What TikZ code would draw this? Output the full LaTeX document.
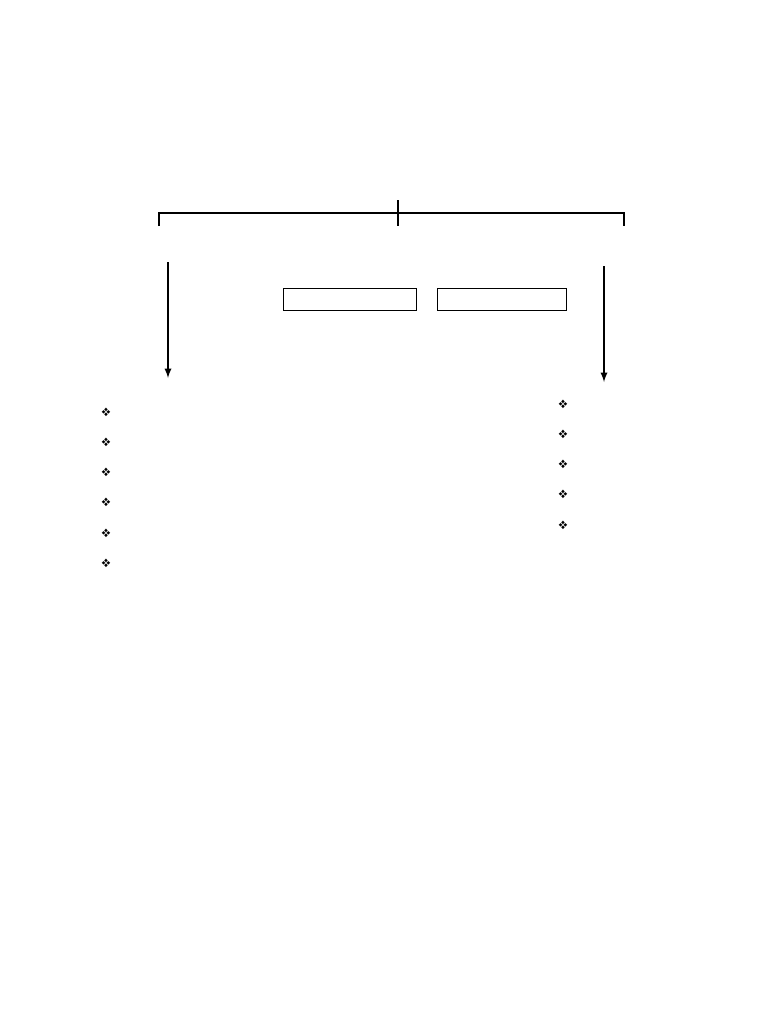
\documentclass[tikz,border=0pt]{standalone}
\usepackage{pifont}
\begin{document}
\begin{tikzpicture}
    [
        x = 0.75pt, y = -0.75pt,
        bracket/.style = {line width = 1.4pt},
        down arrow/.style = {line width = 1.4pt, -latex},
        blank box/.style = {draw, line width = 0.7pt, minimum width = 100pt, minimum height = 16.5pt, inner sep = 0pt},
        bullet/.style = {inner sep = 0pt, font = \small}
    ]
        \useasboundingbox (0,0) rectangle (768,1024);

        % bracket
        \coordinate (top) at (398,200);
        \coordinate (mid) at (398,226);
        \coordinate (left end) at (159,226);
        \coordinate (right end) at (624,226);
        \draw[bracket] (left end) |- (right end |- 0,213) -- (right end);
        \draw[line width = 0.9pt] (top) -- (mid);

        % arrows
        \coordinate (left start) at (168,262);
        \coordinate (left stop) at (168,378);
        \coordinate (right start) at (604,266);
        \coordinate (right stop) at (604,382);
        \draw[down arrow] (left start) -- (left stop);
        \draw[down arrow] (right start) -- (right stop);

        % boxes
        \node[blank box, minimum width = 99.75pt] (box one) at (349.5,299) {};
        \node[blank box, minimum width = 96.75pt] (box two) at (501.5,299) {};

        % bullets
        \foreach \y [count = \i] in {411,441,471,501,532,562}
            \node[bullet] (left bullet \i) at (106,\y+1) {\ding{118}};
        \foreach \y [count = \i] in {403,433,463,493,524}
            \node[bullet] (right bullet \i) at (563,\y+1) {\ding{118}};
    \end{tikzpicture}
\end{document}
